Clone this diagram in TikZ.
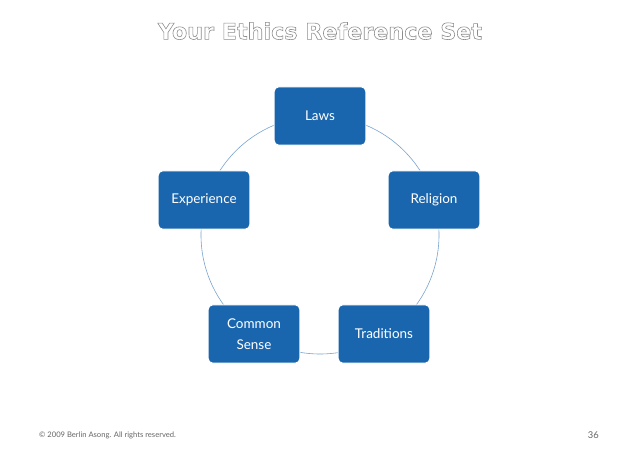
\documentclass[tikz,border=0pt]{standalone}
\usepackage{fontspec}
\setmainfont{Lato}
\newfontfamily\titlefont{DejaVu Sans}
\begin{document}
\begin{tikzpicture}[x=0.03cm,y=-0.03cm,
 box/.style={draw=white,line width=0.8pt,fill=boxblue,rounded corners=4pt,minimum width=2.75cm,minimum height=1.75cm,text=white,font=\fontsize{11.5}{18}\selectfont,align=center,inner sep=1pt},
 tt/.style={font=\titlefont\fontsize{19}{22}\bfseries\selectfont}]
\definecolor{boxblue}{HTML}{1A66AE}
\useasboundingbox (0,0) rectangle (638,456);
\fill[white] (0,0) rectangle (638,456);
\draw[color=boxblue!60,line width=0.5pt] (320,235) circle[radius=119*0.03cm];
\node[box] (laws) at (320,116) {Laws};
\node[box] (rel) at (434,200) {Religion};
\node[box] (exp) at (204,200) {Experience};
\node[box] (cs) at (254,334) {Common\\Sense};
\node[box] (tr) at (384,334) {Traditions};
\node[tt,text=white] (title) at (320,31) {\special{pdf:literal direct 2 Tr 0.55 0.55 0.55 RG 0.5 w}Your Ethics Reference Set\special{pdf:literal direct 0 Tr}};
\node[anchor=west,font=\fontsize{6.5}{8}\selectfont,text=gray!80!black] (copy) at (35,435) {© 2009 Berlin Asong. All rights reserved.};
\node[anchor=east,font=\fontsize{8}{10}\selectfont,text=gray!80!black] (num) at (603,435) {36};
\end{tikzpicture}
\end{document}
